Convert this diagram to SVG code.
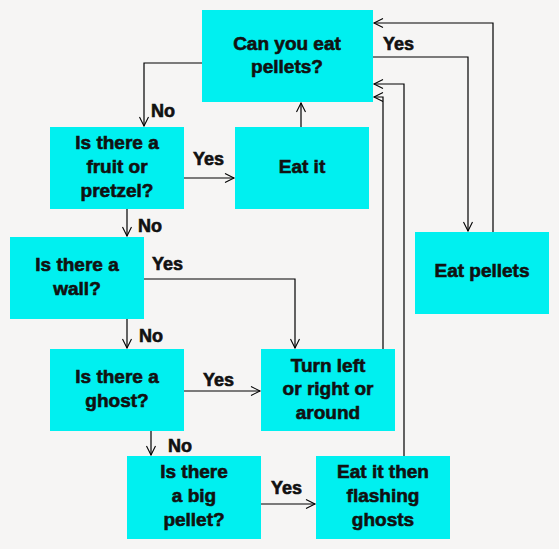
<svg xmlns="http://www.w3.org/2000/svg" width="559" height="549" viewBox="0 0 559 549">
<style>
.box{fill:#00f0f0}
.t{font-family:"Liberation Sans",Arial,sans-serif;font-weight:bold;font-size:19px;fill:#111;stroke:#111;stroke-width:0.6;text-anchor:middle}
.l{font-family:"Liberation Sans",Arial,sans-serif;font-weight:bold;font-size:18px;fill:#111;stroke:#111;stroke-width:0.6}
.c{fill:none;stroke:#000;stroke-width:1.2}
</style>
<defs>
<marker id="ah" markerUnits="userSpaceOnUse" markerWidth="12" markerHeight="12" viewBox="-1 -6 12 12" refX="9" refY="0" orient="auto">
<path d="M0,-4.5 L9,0 L0,4.5" fill="none" stroke="#000" stroke-width="1.1"/>
</marker>
</defs>
<rect width="559" height="549" fill="#f6f5f4"/>
<g id="connectors">
<path class="c" d="M202,63 H144 V126" marker-end="url(#ah)"/>
<path class="c" d="M184,178 H234" marker-end="url(#ah)"/>
<path class="c" d="M301,127 V103" marker-end="url(#ah)"/>
<path class="c" d="M127,209 V236" marker-end="url(#ah)"/>
<path class="c" d="M144,279 H295 V348" marker-end="url(#ah)"/>
<path class="c" d="M127,319 V348" marker-end="url(#ah)"/>
<path class="c" d="M184,391 H260" marker-end="url(#ah)"/>
<path class="c" d="M151,431 V455" marker-end="url(#ah)"/>
<path class="c" d="M261,504 H315" marker-end="url(#ah)"/>
<path class="c" d="M383,349 V97 H374" marker-end="url(#ah)"/>
<path class="c" d="M404,456 V84 H374" marker-end="url(#ah)"/>
<path class="c" d="M373,57 H468 V231" marker-end="url(#ah)"/>
<path class="c" d="M493,232 V23 H374" marker-end="url(#ah)"/>
<text class="l" x="151" y="117">No</text>
<text class="l" x="193" y="165">Yes</text>
<text class="l" x="138" y="232">No</text>
<text class="l" x="152" y="270">Yes</text>
<text class="l" x="139" y="342">No</text>
<text class="l" x="203" y="386">Yes</text>
<text class="l" x="168" y="452">No</text>
<text class="l" x="271" y="494">Yes</text>
<text class="l" x="383" y="50">Yes</text>
</g>
<g id="can-eat-pellets">
<rect class="box" x="202" y="10" width="171" height="92"/>
<text class="t" x="287" y="50">Can you eat</text>
<text class="t" x="287" y="73">pellets?</text>
</g>
<g id="fruit">
<rect class="box" x="50" y="127" width="134" height="82"/>
<text class="t" x="117" y="149">Is there a</text>
<text class="t" x="117" y="173">fruit or</text>
<text class="t" x="117" y="197">pretzel?</text>
</g>
<g id="eat-it">
<rect class="box" x="235" y="127" width="134" height="82"/>
<text class="t" x="302" y="173">Eat it</text>
</g>
<g id="wall">
<rect class="box" x="10" y="237" width="134" height="82"/>
<text class="t" x="77" y="271">Is there a</text>
<text class="t" x="77" y="295">wall?</text>
</g>
<g id="eat-pellets">
<rect class="box" x="415" y="232" width="134" height="82"/>
<text class="t" x="482" y="277">Eat pellets</text>
</g>
<g id="ghost">
<rect class="box" x="50" y="349" width="134" height="82"/>
<text class="t" x="117" y="383">Is there a</text>
<text class="t" x="117" y="407">ghost?</text>
</g>
<g id="turn">
<rect class="box" x="261" y="349" width="134" height="82"/>
<text class="t" x="328" y="372">Turn left</text>
<text class="t" x="328" y="395">or right or</text>
<text class="t" x="328" y="419">around</text>
</g>
<g id="big-pellet">
<rect class="box" x="127" y="456" width="134" height="83"/>
<text class="t" x="194" y="478">Is there</text>
<text class="t" x="194" y="502">a big</text>
<text class="t" x="194" y="526">pellet?</text>
</g>
<g id="flashing">
<rect class="box" x="316" y="456" width="134" height="83"/>
<text class="t" x="383" y="478">Eat it then</text>
<text class="t" x="383" y="502">flashing</text>
<text class="t" x="383" y="526">ghosts</text>
</g>
</svg>
